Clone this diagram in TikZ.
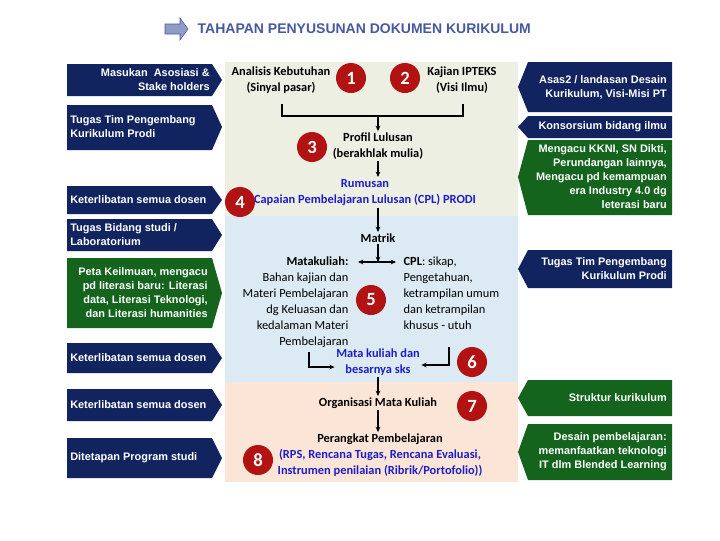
\documentclass[tikz,border=0pt]{standalone}
\usepackage{fontspec}
\setmainfont{Carlito}
\newfontfamily\arial{Liberation Sans}
\usetikzlibrary{arrows.meta}
\definecolor{navy}{RGB}{18,36,96}
\definecolor{dgreen}{RGB}{20,100,30}
\definecolor{pgreen}{RGB}{236,239,226}
\definecolor{pblue}{RGB}{220,235,243}
\definecolor{ppeach}{RGB}{251,229,214}
\definecolor{cred}{RGB}{178,18,18}
\definecolor{tblue}{RGB}{30,30,200}
\definecolor{titleblue}{RGB}{70,90,160}
\tikzset{
 num/.style={circle,fill=cred,minimum size=30*0.75pt,inner sep=0pt,text=white,font=\bfseries\fontsize{14}{14}\selectfont},
 ctext/.style={font=\fontsize{9.3}{12}\selectfont,align=center,inner sep=1pt},
 side/.style={font=\arial\bfseries\fontsize{8.2}{10.5}\selectfont,text=white,inner sep=0pt},
 arr/.style={-{Stealth[length=4pt,width=3.5pt]},thick},
}
\begin{document}
\begin{tikzpicture}[x=0.75pt,y=-0.75pt]
\useasboundingbox (0,0) rectangle (720,540);
\fill[white] (0,0) rectangle (720,540);
% title
\draw[fill=titleblue!60,draw=titleblue] (165,24)--(180,24)--(180,18)--(188,29)--(180,40)--(180,34)--(165,34)--cycle;
\node[font=\arial\bfseries\fontsize{10.5}{12}\selectfont,text=titleblue,anchor=west] (title) at (193,29) {TAHAPAN PENYUSUNAN DOKUMEN KURIKULUM};
% panels
\fill[pgreen] (225,62) rectangle (518,216);
\fill[pblue] (225,216) rectangle (518,382);
\fill[ppeach] (225,382) rectangle (518,482);
% left arrows
\newcommand\larr[5]{\fill[#1] (67,#2)--(212,#2)--(222,{(#2+#3)/2})--(212,#3)--(67,#3)--cycle;
 \node[side,align=#4,anchor=#5] at ({#5=="east"?210:71},{(#2+#3)/2}) {};}
\fill[navy] (67,64)--(212,64)--(222,80)--(212,96)--(67,96)--cycle;
\node[side,align=right,anchor=east] (l1) at (210,80) {Masukan\ \ Asosiasi \&\\Stake holders};
\fill[navy] (67,105)--(212,105)--(222,127)--(212,150)--(67,150)--cycle;
\node[side,align=left,anchor=west] (l2) at (70,127) {Tugas Tim Pengembang\\Kurikulum Prodi};
\fill[navy] (67,186)--(212,186)--(222,200)--(212,214)--(67,214)--cycle;
\node[side,anchor=west] (l3) at (70,200) {Keterlibatan semua dosen};
\fill[navy] (67,219)--(212,219)--(222,235)--(212,251)--(67,251)--cycle;
\node[side,align=left,anchor=west] (l4) at (70,235) {Tugas Bidang studi /\\Laboratorium};
\fill[dgreen] (67,258)--(212,258)--(222,293)--(212,328)--(67,328)--cycle;
\node[side,align=right,anchor=east] (l5) at (208,293) {Peta Keilmuan, mengacu\\pd literasi baru: Literasi\\data, Literasi Teknologi,\\dan Literasi humanities};
\fill[navy] (67,343)--(212,343)--(222,358)--(212,373)--(67,373)--cycle;
\node[side,anchor=west] (l6) at (70,358) {Keterlibatan semua dosen};
\fill[navy] (67,389)--(212,389)--(222,405)--(212,421)--(67,421)--cycle;
\node[side,anchor=west] (l7) at (70,405) {Keterlibatan semua dosen};
\fill[navy] (67,438)--(212,438)--(222,458)--(212,478)--(67,478)--cycle;
\node[side,anchor=west] (l8) at (70,458) {Ditetapan Program studi};
% right arrows
\fill[navy] (672,62)--(528,62)--(518,87)--(528,112)--(672,112)--cycle;
\node[side,align=right,anchor=east] (r1) at (667,87) {Asas2\ / landasan Desain\\Kurikulum, Visi-Misi PT};
\fill[navy] (672,116)--(528,116)--(518,127)--(528,138)--(672,138)--cycle;
\node[side,anchor=east] (r2) at (667,127) {Konsorsium bidang ilmu};
\fill[dgreen] (672,140)--(528,140)--(518,177)--(528,215)--(672,215)--cycle;
\node[side,align=right,anchor=east] (r3) at (667,177) {Mengacu KKNI, SN Dikti,\\Perundangan lainnya,\\Mengacu pd kemampuan\\era Industry 4.0 dg\\leterasi baru};
\fill[navy] (672,250)--(528,250)--(518,269)--(528,288)--(672,288)--cycle;
\node[side,align=right,anchor=east] (r4) at (667,269) {Tugas Tim Pengembang\\Kurikulum Prodi};
\fill[dgreen] (672,380)--(528,380)--(518,398)--(528,416)--(672,416)--cycle;
\node[side,anchor=east] (r5) at (667,398) {Struktur kurikulum};
\fill[dgreen] (672,424)--(528,424)--(518,452)--(528,480)--(672,480)--cycle;
\node[side,align=right,anchor=east] (r6) at (667,452) {Desain pembelajaran:\\memanfaatkan teknologi\\IT dlm Blended Learning};
% center content
\node[ctext,font=\bfseries\fontsize{9.3}{12}\selectfont] (ak) at (281,80) {Analisis Kebutuhan\\(Sinyal pasar)};
\node[ctext,font=\bfseries\fontsize{9.3}{12}\selectfont] (ki) at (462,80) {Kajian IPTEKS\\(Visi Ilmu)};
\coordinate (b1) at (282,104); \coordinate (b2) at (282,116);
\coordinate (b3) at (463,116); \coordinate (b4) at (463,104);
\coordinate (bm) at (378,116);
\draw[thick] (b1)--(b2)--(b3)--(b4);
\node[ctext,font=\bfseries\fontsize{9.3}{12}\selectfont] (pl) at (378,146) {Profil Lulusan\\(berakhlak mulia)};
\draw[arr] (bm)--(pl.north);
\node[ctext,font=\bfseries\fontsize{9.3}{12}\selectfont,text=tblue] (cpl) at (365,193) {Rumusan\\Capaian Pembelajaran Lulusan (CPL) PRODI};
\draw[arr] (pl.south)--(378,177);
\node[ctext,font=\bfseries\fontsize{9.3}{12}\selectfont] (mx) at (378,238) {Matrik};
\draw[arr] (cpl.south-|mx)--(mx.north);
\coordinate (mxc) at (378,262);
\node[ctext,align=right,anchor=north east] (mk) at (350,255) {\textbf{Matakuliah:}\\Bahan kajian dan\\Materi Pembelajaran\\dg Keluasan dan\\kedalaman Materi\\Pembelajaran};
\node[ctext,align=left,anchor=north west] (cp) at (402,255) {\textbf{CPL}: sikap,\\Pengetahuan,\\ketrampilan umum\\dan ketrampilan\\khusus - utuh};
\draw[arr] (mx.south)--(mxc);
\draw[{Stealth[length=4pt,width=3.5pt]}-{Stealth[length=4pt,width=3.5pt]},thick] (358,262)--(396,262);
\node[ctext,font=\bfseries\fontsize{9.3}{12}\selectfont,text=tblue] (ms) at (378,362) {Mata kuliah dan\\besarnya sks};
\draw[arr] (309,352)--(309,367)--(ms.west|-0,367);
\draw[arr] (449,347)--(449,365)--(ms.east|-0,365);
\node[ctext,font=\bfseries\fontsize{9.3}{12}\selectfont] (om) at (378,403) {Organisasi\ Mata Kuliah};
\draw[arr] (ms.south)--(om.north);
\node[ctext,font=\bfseries\fontsize{9.3}{12}\selectfont,align=center] (pp) at (380,455) {Perangkat Pembelajaran\\\textcolor{tblue}{(RPS, Rencana Tugas,\ Rencana Evaluasi,}\\\textcolor{tblue}{Instrumen penilaian (Ribrik/Portofolio))}};
\draw[arr] (om.south)--(pp.north-|om);
% numbers
\node[num] (n1) at (351,78) {1};
\node[num] (n2) at (405,78) {2};
\node[num] (n3) at (312,147) {3};
\node[num] (n4) at (240,202) {4};
\node[num] (n5) at (371,300) {5};
\node[num] (n6) at (472,362) {6};
\node[num] (n7) at (472,406) {7};
\node[num] (n8) at (258,460) {8};
\end{tikzpicture}
\end{document}
